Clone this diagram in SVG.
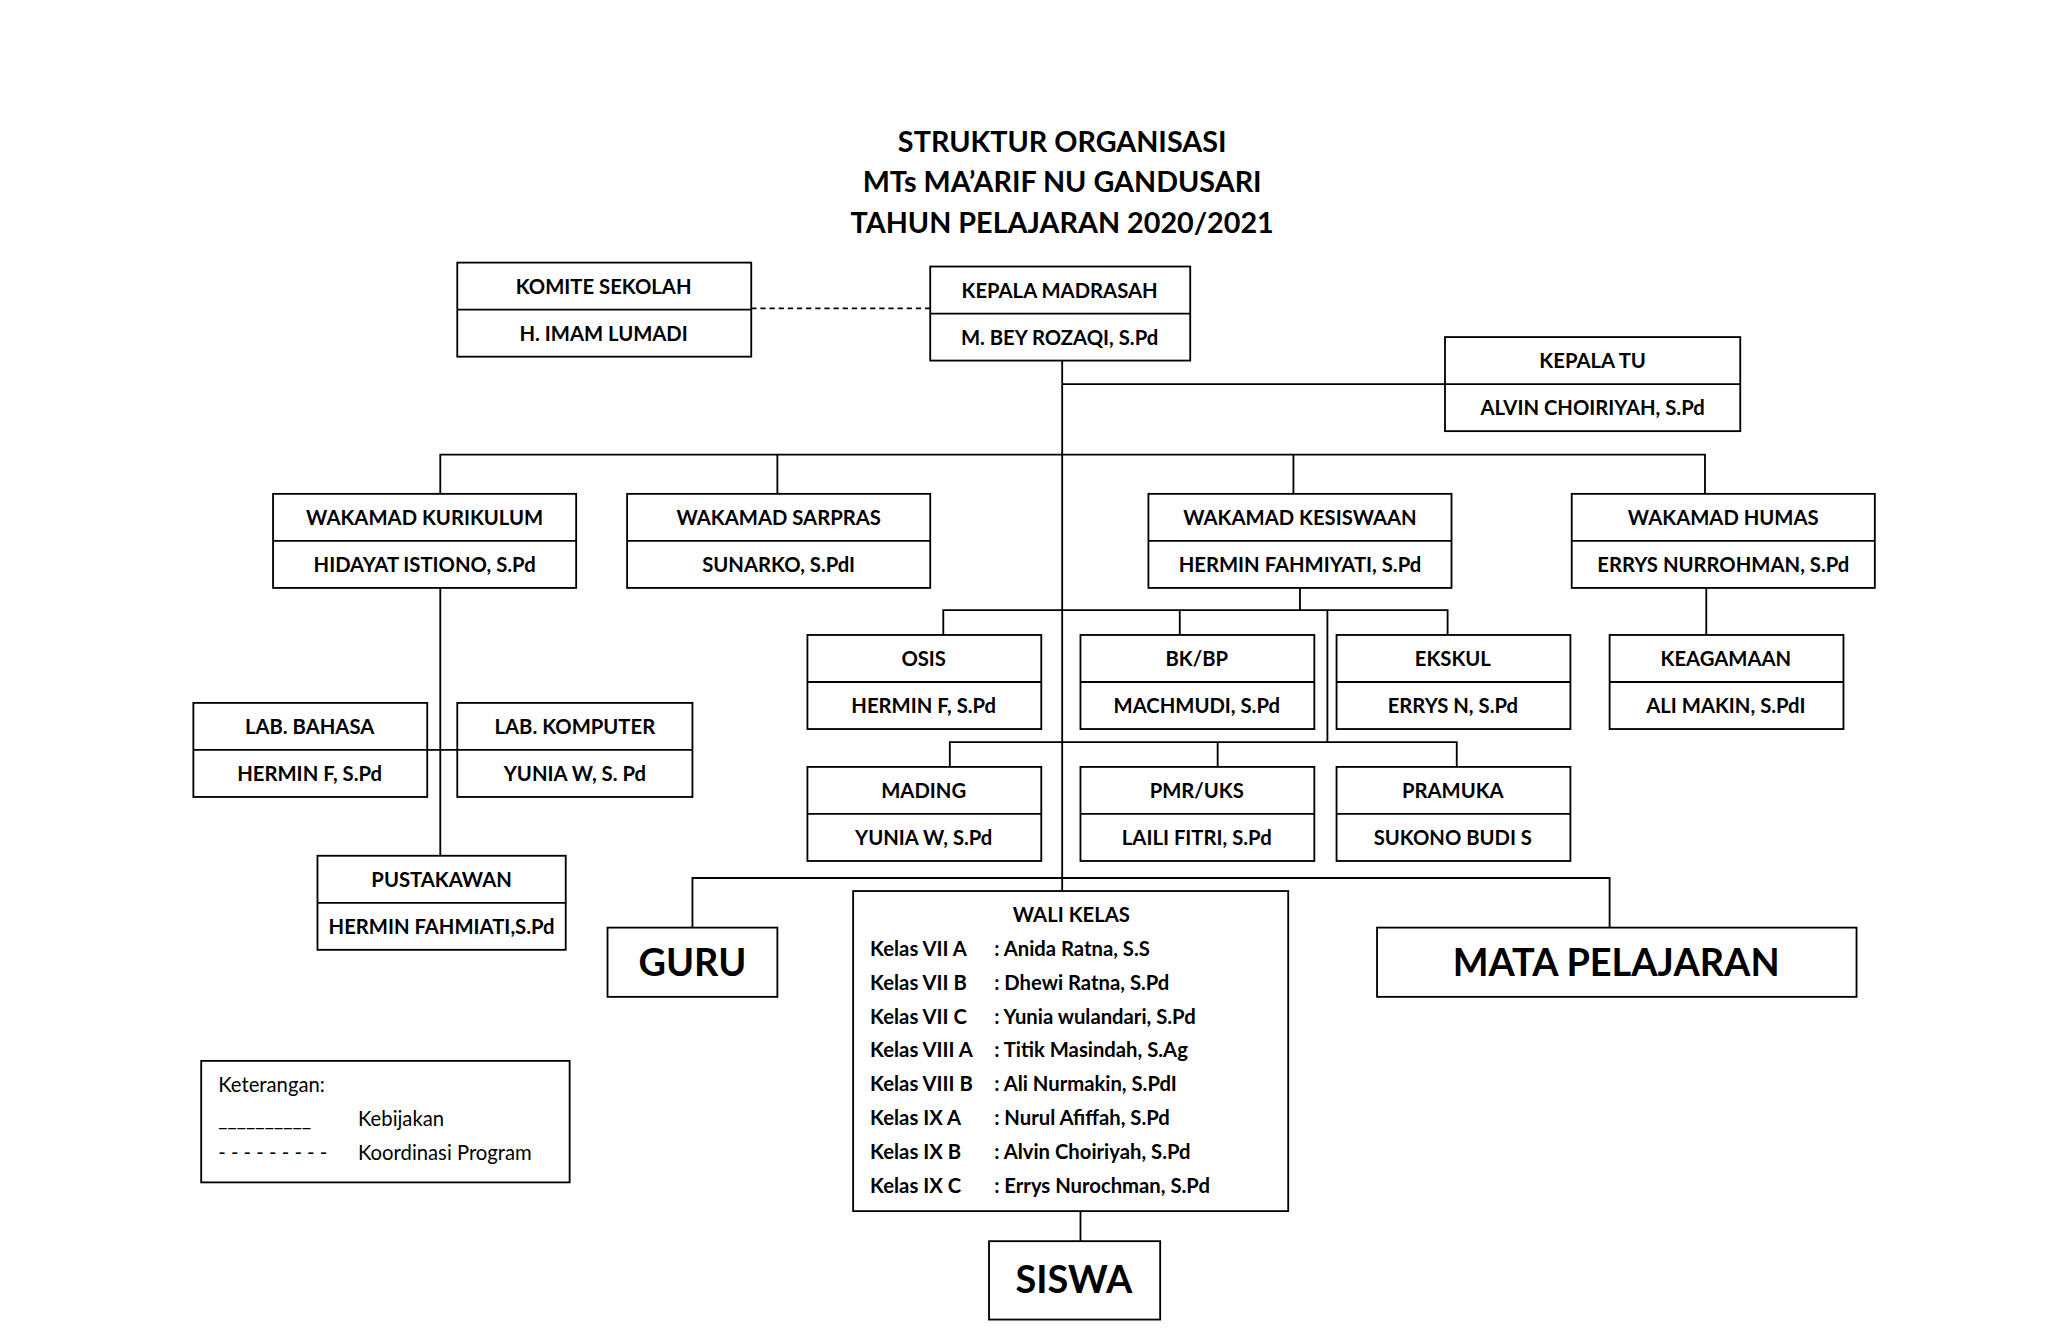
<svg xmlns="http://www.w3.org/2000/svg" width="2048" height="1340" viewBox="0 0 2048 1340">
<style>
rect{fill:#fff;stroke:#000;stroke-width:1.4}
line,path{stroke:#000;stroke-width:1.4;fill:none}
text{font-family:Lato,"Noto Sans",sans-serif;font-weight:bold;font-size:15.5px;text-anchor:middle;fill:#000}
.t{font-size:22px}
.big{font-size:29px}
.l{text-anchor:start}
.r{font-weight:normal}
</style>
<rect x="0" y="0" width="2048" height="1340" style="stroke:none"/>
<g transform="scale(1.3065)">
<g id="title">
<text class="t" x="813" y="116">STRUKTUR ORGANISASI</text>
<text class="t" x="813" y="147">MTs MA’ARIF NU GANDUSARI</text>
<text class="t" x="813" y="178">TAHUN PELAJARAN 2020/2021</text>
</g>
<g id="connectors">
<path d="M575 236H712" stroke-dasharray="4 3"/>
<path d="M813 276V682M813 294H1106"/>
<path d="M337 378V348H1305V378M595 348V378M990 348V378"/>
<path d="M337 450V655M327 574H350"/>
<path d="M995 450V467M722 486V467H1108V486M903 467V486M1016 467V568M727 587V568H1115V587M932 568V587"/>
<path d="M1306 450V486"/>
<path d="M530 710V672H1232V710"/>
<path d="M827 927V950"/>
</g>
<g id="komite"><rect x="350" y="201" width="225" height="72"/><line x1="350" y1="237" x2="575" y2="237"/><text x="462" y="225">KOMITE SEKOLAH</text><text x="462" y="261">H. IMAM LUMADI</text></g>
<g id="kepala"><rect x="712" y="204" width="199" height="72"/><line x1="712" y1="240" x2="911" y2="240"/><text x="811" y="228">KEPALA MADRASAH</text><text x="811" y="264">M. BEY ROZAQI, S.Pd</text></g>
<g id="kepalatu"><rect x="1106" y="258" width="226" height="72"/><line x1="1106" y1="294" x2="1332" y2="294"/><text x="1219" y="282">KEPALA TU</text><text x="1219" y="318">ALVIN CHOIRIYAH, S.Pd</text></g>
<g id="kurikulum"><rect x="209" y="378" width="232" height="72"/><line x1="209" y1="414" x2="441" y2="414"/><text x="325" y="402">WAKAMAD KURIKULUM</text><text x="325" y="438">HIDAYAT ISTIONO, S.Pd</text></g>
<g id="sarpras"><rect x="480" y="378" width="232" height="72"/><line x1="480" y1="414" x2="712" y2="414"/><text x="596" y="402">WAKAMAD SARPRAS</text><text x="596" y="438">SUNARKO, S.PdI</text></g>
<g id="kesiswaan"><rect x="879" y="378" width="232" height="72"/><line x1="879" y1="414" x2="1111" y2="414"/><text x="995" y="402">WAKAMAD KESISWAAN</text><text x="995" y="438">HERMIN FAHMIYATI, S.Pd</text></g>
<g id="humas"><rect x="1203" y="378" width="232" height="72"/><line x1="1203" y1="414" x2="1435" y2="414"/><text x="1319" y="402">WAKAMAD HUMAS</text><text x="1319" y="438">ERRYS NURROHMAN, S.Pd</text></g>
<g id="labbahasa"><rect x="148" y="538" width="179" height="72"/><line x1="148" y1="574" x2="327" y2="574"/><text x="237" y="562">LAB. BAHASA</text><text x="237" y="598">HERMIN F, S.Pd</text></g>
<g id="labkomputer"><rect x="350" y="538" width="180" height="72"/><line x1="350" y1="574" x2="530" y2="574"/><text x="440" y="562">LAB. KOMPUTER</text><text x="440" y="598">YUNIA W, S. Pd</text></g>
<g id="pustakawan"><rect x="243" y="655" width="190" height="72"/><line x1="243" y1="691" x2="433" y2="691"/><text x="338" y="679">PUSTAKAWAN</text><text x="338" y="715">HERMIN FAHMIATI,S.Pd</text></g>
<g id="osis"><rect x="618" y="486" width="179" height="72"/><line x1="618" y1="522" x2="797" y2="522"/><text x="707" y="510">OSIS</text><text x="707" y="546">HERMIN F, S.Pd</text></g>
<g id="bkbp"><rect x="827" y="486" width="179" height="72"/><line x1="827" y1="522" x2="1006" y2="522"/><text x="916" y="510">BK/BP</text><text x="916" y="546">MACHMUDI, S.Pd</text></g>
<g id="ekskul"><rect x="1023" y="486" width="179" height="72"/><line x1="1023" y1="522" x2="1202" y2="522"/><text x="1112" y="510">EKSKUL</text><text x="1112" y="546">ERRYS N, S.Pd</text></g>
<g id="keagamaan"><rect x="1232" y="486" width="179" height="72"/><line x1="1232" y1="522" x2="1411" y2="522"/><text x="1321" y="510">KEAGAMAAN</text><text x="1321" y="546">ALI MAKIN, S.PdI</text></g>
<g id="mading"><rect x="618" y="587" width="179" height="72"/><line x1="618" y1="623" x2="797" y2="623"/><text x="707" y="611">MADING</text><text x="707" y="647">YUNIA W, S.Pd</text></g>
<g id="pmr"><rect x="827" y="587" width="179" height="72"/><line x1="827" y1="623" x2="1006" y2="623"/><text x="916" y="611">PMR/UKS</text><text x="916" y="647">LAILI FITRI, S.Pd</text></g>
<g id="pramuka"><rect x="1023" y="587" width="179" height="72"/><line x1="1023" y1="623" x2="1202" y2="623"/><text x="1112" y="611">PRAMUKA</text><text x="1112" y="647">SUKONO BUDI S</text></g>
<g id="guru"><rect x="465" y="710" width="130" height="53"/><text class="big" x="530" y="747">GURU</text></g>
<g id="mapel"><rect x="1054" y="710" width="367" height="53"/><text class="big" x="1237" y="747">MATA PELAJARAN</text></g>
<g id="walikelas"><rect x="653" y="682" width="333" height="245"/>
<text x="820" y="706">WALI KELAS</text>
<g class="l">
<text class="l" x="666" y="732">Kelas VII A</text><text class="l" x="761" y="732">: Anida Ratna, S.S</text>
<text class="l" x="666" y="758">Kelas VII B</text><text class="l" x="761" y="758">: Dhewi Ratna, S.Pd</text>
<text class="l" x="666" y="784">Kelas VII C</text><text class="l" x="761" y="784">: Yunia wulandari, S.Pd</text>
<text class="l" x="666" y="809">Kelas VIII A</text><text class="l" x="761" y="809">: Titik Masindah, S.Ag</text>
<text class="l" x="666" y="835">Kelas VIII B</text><text class="l" x="761" y="835">: Ali Nurmakin, S.PdI</text>
<text class="l" x="666" y="861">Kelas IX A</text><text class="l" x="761" y="861">: Nurul Afiffah, S.Pd</text>
<text class="l" x="666" y="887">Kelas IX B</text><text class="l" x="761" y="887">: Alvin Choiriyah, S.Pd</text>
<text class="l" x="666" y="913">Kelas IX C</text><text class="l" x="761" y="913">: Errys Nurochman, S.Pd</text>
</g></g>
<g id="siswa"><rect x="757" y="950" width="131" height="60"/><text class="big" x="822" y="990">SISWA</text></g>
<g id="legend"><rect x="154" y="812" width="282" height="93"/>
<text class="l r" x="167" y="836">Keterangan:</text>
<text class="l r" x="167" y="862">__________</text><text class="l r" x="274" y="862">Kebijakan</text>
<text class="l r" x="167" y="888">- - - - - - - - -</text><text class="l r" x="274" y="888">Koordinasi Program</text>
</g>
</g>
</svg>
